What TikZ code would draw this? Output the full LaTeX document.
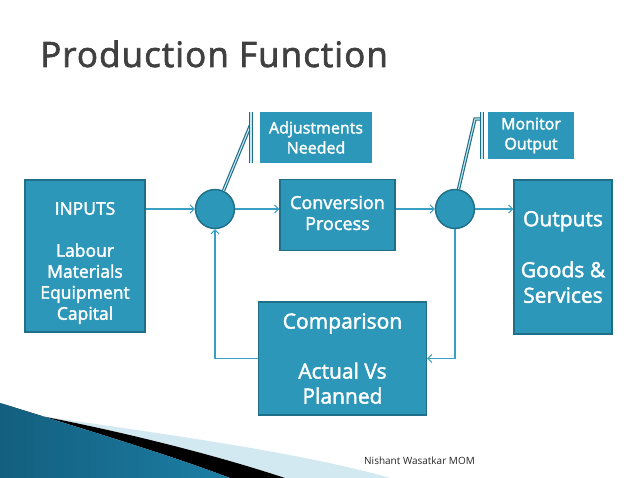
\documentclass[tikz,border=0pt]{standalone}
\usepackage{fontspec}
\setmainfont{Open Sans}[FakeBold=2]
\newfontfamily\titlefont[LetterSpace=3,FakeBold=2]{Open Sans}
\newfontfamily\footfont{Open Sans}
\usetikzlibrary{arrows.meta}
\definecolor{tealfill}{HTML}{2C97B8}
\definecolor{tealedge}{HTML}{1F6F88}
\definecolor{flowc}{HTML}{3AA0C3}
\definecolor{calloutlight}{HTML}{C6E6F0}
\definecolor{titlegray}{HTML}{404040}
\definecolor{swdark}{HTML}{135F7F}
\definecolor{swmid}{HTML}{4CAFD3}
\definecolor{swright}{HTML}{1C7EA4}
\definecolor{swlight}{HTML}{D3E9F1}
\tikzset{
  box/.style={draw=tealedge, line width=1.4pt, fill=tealfill, text=white, align=center, inner sep=0pt},
  boxtext/.style={text=white, align=center, inner sep=0pt},
  hub/.style={circle, draw=tealedge, line width=1.4pt, fill=tealfill, minimum size=39pt, inner sep=0pt},
  flow/.style={draw=flowc, line width=1.1pt, -{Straight Barb[length=4pt,width=8pt,line width=1pt]}},
  calloutline/.style={draw=tealedge, line width=3.4pt},
  calloutcore/.style={draw=calloutlight, line width=1.1pt},
}
\begin{document}
\begin{tikzpicture}[x=1pt,y=-1pt]
\useasboundingbox[fill=white] (0,0) rectangle (638,478);
% decorative swoosh
\fill[swlight] (40,416) .. controls (150,432) and (300,452) .. (390,478) -- (285,478) .. controls (200,450) and (100,427) .. (30,414) -- cycle;
\fill[black] (30,414) .. controls (100,427) and (200,450) .. (285,478) -- (230,478) .. controls (170,455) and (80,428) .. (0,403) -- cycle;
\shade[left color=swdark, middle color=swmid, right color=swright] (0,403) .. controls (80,428) and (170,455) .. (230,478) -- (0,478) -- cycle;
% title
\node[anchor=base west, inner sep=0pt, text=titlegray, font=\titlefont\fontsize{35}{40}\selectfont] (title) at (40,67) {Production Function};
% boxes
\node[box, minimum width=120pt, minimum height=152pt] (inputs) at (85,256) {};
\node[boxtext, font=\fontsize{17.5}{21}\selectfont] (inputsText) at (85,263) {INPUTS\\[21pt]Labour\\Materials\\Equipment\\Capital};
\node[box, minimum width=115pt, minimum height=71pt] (conv) at (337.5,215) {};
\node[boxtext, font=\fontsize{18}{21}\selectfont] (convText) at (337.5,213) {Conversion\\Process};
\node[box, minimum width=98pt, minimum height=154pt, font=\fontsize{21}{25.5}\selectfont] (outputs) at (563,257) {Outputs\\[25.5pt]Goods \&\\Services};
\node[box, minimum width=168pt, minimum height=113pt, font=\fontsize{21}{25}\selectfont] (comp) at (342.5,358.5) {Comparison\\[25pt]Actual Vs\\Planned};
\node[box, draw=none, minimum width=112pt, minimum height=51pt, font=\fontsize{16}{20}\selectfont] (adj) at (316,137.5) {Adjustments\\Needed};
\node[box, draw=none, minimum width=86pt, minimum height=47pt, font=\fontsize{16}{20}\selectfont] (mon) at (531,135.5) {Monitor\\Output};
% hubs
\node[hub] (c1) at (215,209) {};
\node[hub] (c2) at (455,209) {};
% callouts
\coordinate (adjT) at (251,112);
\coordinate (adjB) at (251,163);
\coordinate (adjK) at (251,124);
\coordinate (monT) at (482,112);
\coordinate (monB) at (482,159);
\coordinate (monK) at (482,119);
\coordinate (monE) at (475,119);
\draw[calloutline] (c1.65) -- (adjK);
\draw[calloutcore] (c1.65) -- (adjK);
\draw[calloutline] (adjT) -- (adjB);
\draw[calloutcore] (adjT) -- (adjB);
\draw[calloutline] (c2.80) -- (monE) -- (monK);
\draw[calloutcore] (c2.80) -- (monE) -- (monK);
\draw[calloutline] (monT) -- (monB);
\draw[calloutcore] (monT) -- (monB);
% flows
\draw[flow] (inputs.east |- c1.west) -- (c1.west);
\draw[flow] (c1.east) -- (conv.west |- c1.east);
\draw[flow] (conv.east |- c2.west) -- (c2.west);
\draw[flow] (c2.east) -- (outputs.west |- c2.east);
\draw[flow] (c2.south) |- (comp.east);
\draw[flow] (comp.west) -| (c1.south);
% footer
\node[anchor=base west, inner sep=0pt, text=black!85, font=\footfont\fontsize{10}{12}\selectfont] (footer) at (364,465) {Nishant Wasatkar MOM};
\end{tikzpicture}
\end{document}
